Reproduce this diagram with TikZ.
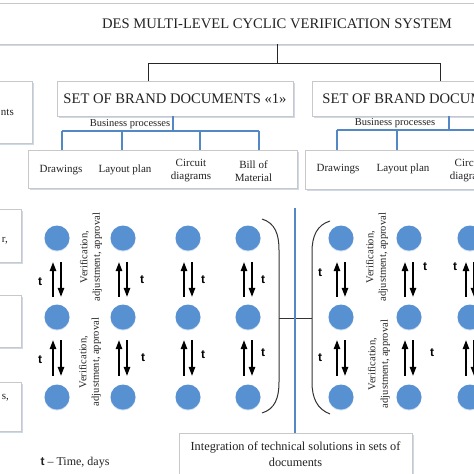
\documentclass[tikz,border=0pt]{standalone}
\usepackage{fontspec}
\setmainfont{Liberation Serif}
\newfontfamily\tfont{Liberation Sans}
\usetikzlibrary{arrows.meta,shadows,calc}
\definecolor{dotblue}{RGB}{88,145,210}
\definecolor{bline}{RGB}{84,136,196}
\definecolor{frame}{RGB}{200,200,200}
\definecolor{shade}{RGB}{200,212,230}
\definecolor{ink}{RGB}{35,35,35}
\tikzset{
  box/.style={draw=frame, line width=0.6pt, fill=white, inner sep=0pt, text=ink,
    drop shadow={shadow xshift=1.5pt, shadow yshift=-2pt, fill=shade, opacity=0.9}},
  txt/.style={text=ink, inner sep=0pt, align=center, font=\fontsize{11}{13}\selectfont},
  bigtxt/.style={text=ink, inner sep=0pt, font=\fontsize{14.6}{17}\selectfont},
  conn/.style={draw=black!85, line width=1pt},
  bconn/.style={draw=bline, line width=1.2pt},
  dotnode/.style={circle, fill=dotblue, minimum size=25pt, inner sep=0pt,
    drop shadow={shadow xshift=0pt, shadow yshift=-1pt, fill=dotblue!45, opacity=0.7}},
  arr/.style={draw=black, line width=1.3pt, -{Triangle[length=9pt,width=6.5pt]}},
  tlab/.style={inner sep=0pt, font=\tfont\bfseries\fontsize{12}{12}\selectfont},
  vtext/.style={rotate=90, align=center, text=ink, inner sep=0pt, font=\fontsize{10.5}{12.5}\selectfont},
  brack/.style={draw=black!80, line width=1pt}
}
\begin{document}
\begin{tikzpicture}[x=1pt,y=-1pt]
\useasboundingbox (0,0) rectangle (474,474);
\clip (0,0) rectangle (474,474);
\fill[white] (0,0) rectangle (474,474);

% title
\node[box, minimum width=574pt, minimum height=41pt, bigtxt] (title) at (277,23.5) {DES MULTI-LEVEL CYCLIC VERIFICATION SYSTEM};

% sets of brand documents
\node[box, minimum width=236pt, minimum height=35pt, bigtxt] (set1) at (175,98.5) {SET OF BRAND DOCUMENTS «1»};
\node[box, minimum width=244pt, minimum height=35pt, bigtxt] (set2) at (434,98.5) {SET OF BRAND DOCUMENTS «2»};
\node[box, minimum width=42pt, minimum height=62pt] (lefttop) at (11,112) {};
\node[txt, anchor=east] (lefttoptxt) at (14,112) {nts};

\coordinate (s1top) at (148,81);
\coordinate (s2top) at (440,81);
\draw[conn] (title.south) -- ++(0,19) coordinate (hub);
\draw[conn] (s1top) |- (hub) -| (s2top);

% business processes
\node[txt, font=\fontsize{10.5}{12}\selectfont] (bp1) at (130,124) {Business processes};
\node[txt, font=\fontsize{10.5}{12}\selectfont] (bp2) at (395,123) {Business processes};

\node[box, minimum width=269pt, minimum height=38pt] (proc1) at (162.5,169) {};
\node[box, minimum width=255pt, minimum height=39pt] (proc2) at (432.5,169.5) {};

\node[txt] (p11) at (61,170) {Drawings};
\node[txt] (p12) at (125,170) {Layout plan};
\node[txt] (p13) at (191,171) {Circuit\\diagrams};
\node[txt] (p14) at (253.5,171) {Bill of\\Material};
\node[txt] (p21) at (338,169) {Drawings};
\node[txt] (p22) at (403,169) {Layout plan};
\node[txt] (p23) at (470,171) {Circuit\\diagrams};

\coordinate (h1) at (173,131);
\draw[bconn] (set1.south -| h1) -- (h1);
\coordinate (d11) at (62,131);
\coordinate (d12) at (122,131);
\coordinate (d13) at (200,131);
\coordinate (d14) at (259,131);
\draw[bconn] (d11) -- (d14);
\foreach \k in {d11,d12,d13,d14} \draw[bconn] (\k) -- (\k |- proc1.north);

\coordinate (h2) at (449,130);
\draw[bconn] (set2.south -| h2) -- (h2);
\coordinate (d21) at (337,130);
\coordinate (d22) at (397,130);
\coordinate (d2e) at (480,130);
\draw[bconn] (d21) -- (d2e);
\foreach \k in {d21,d22} \draw[bconn] (\k) -- (\k |- proc2.north);

% left partial boxes
\node[box, minimum width=31pt, minimum height=53pt] (la) at (5.5,235.5) {};
\node[txt, anchor=east] (latxt) at (8,241) {r,};
\node[box, minimum width=31pt, minimum height=52pt] (lb) at (5.5,321) {};
\node[box, minimum width=31pt, minimum height=49pt] (lc) at (5.5,406.5) {};
\node[txt, anchor=east] (lctxt) at (9,398) {s,};

% circles
\foreach \i/\x in {1/57,2/123,3/188,4/248,5/341,6/409,7/470} {
  \foreach \j/\y in {1/238,2/317,3/397} {
    \node[dotnode] (c\i\j) at (\x,\y) {};
  }
}
% arrows
\foreach \i in {1,...,7} {
  \draw[arr, shorten <=7.5pt, shorten >=11.5pt] ([xshift=-4pt]c\i2.north) -- ([xshift=-4pt]c\i1.south);
  \draw[arr, shorten <=11.5pt, shorten >=7.5pt] ([xshift=4pt]c\i1.south) -- ([xshift=4pt]c\i2.north);
  \draw[arr, shorten <=8.5pt, shorten >=10.5pt] ([xshift=-4pt]c\i3.north) -- ([xshift=-4pt]c\i2.south);
  \draw[arr, shorten <=10.5pt, shorten >=8.5pt] ([xshift=4pt]c\i2.south) -- ([xshift=4pt]c\i3.north);
}
% t labels
\node[tlab] (t11) at (40,282) {t};
\node[tlab] (t12) at (40,360) {t};
\node[tlab] (t21) at (142,280) {t};
\node[tlab] (t22) at (143,358) {t};
\node[tlab] (t31) at (203,280) {t};
\node[tlab] (t32) at (203,355) {t};
\node[tlab] (t41) at (263,280) {t};
\node[tlab] (t42) at (263,353) {t};
\node[tlab] (t51) at (320,273) {t};
\node[tlab] (t52) at (320,358) {t};
\node[tlab] (t61) at (425,267) {t};
\node[tlab] (t62) at (432,353) {t};
\node[tlab] (t71) at (455,267) {t};

% vertical texts
\node[vtext] (v1) at (91,257) {Verification,\\adjustment, approval};
\node[vtext] (v2) at (90,362) {Verification,\\adjustment, approval};
\node[vtext] (v3) at (377,257) {Verification,\\adjustment, approval};
\node[vtext] (v4) at (379,364) {Verification,\\adjustment, approval};

% brackets
\draw[brack] (262,219) .. controls (275,223) and (279,234) .. (279,250) -- (279,382) .. controls (279,398) and (275,409) .. (262,413);
\draw[brack] (330,221) .. controls (317,225) and (312,236) .. (312,252) -- (312,382) .. controls (312,398) and (317,409) .. (330,414);
\coordinate (bl) at (279,318);
\coordinate (br) at (312,318);
\draw[brack] (bl) -- (br);

% integration box
\node[box, minimum width=233pt, minimum height=57pt] (integ) at (295.5,461.5) {};
\node[txt, font=\fontsize{12.3}{16}\selectfont] (integtxt) at (295.5,454) {Integration of technical solutions in sets of\\documents};
\coordinate (btop) at (295,208);
\draw[bconn] (btop) -- (btop |- integ.north);

% legend
\node[txt, font=\fontsize{12}{14}\selectfont] (legend) at (75,463) {{\tfont\bfseries t} -- Time, days};
\end{tikzpicture}
\end{document}
